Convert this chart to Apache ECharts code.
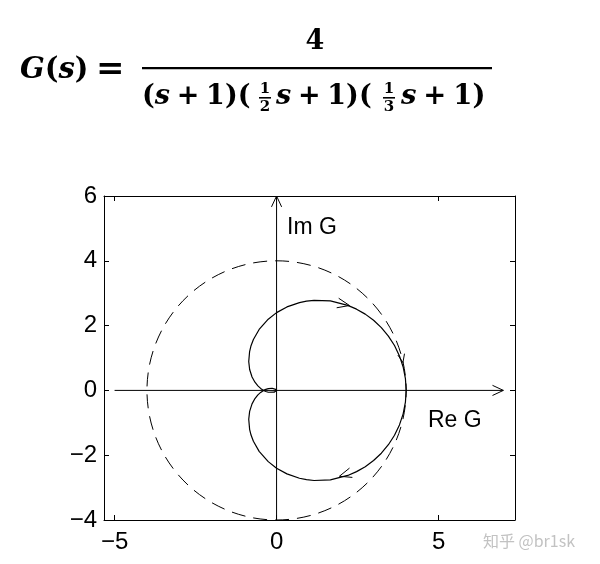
<!DOCTYPE html>
<html>
<head>
<meta charset="utf-8">
<script src="https://cdn.jsdelivr.net/npm/echarts@6/dist/echarts.min.js"></script>
<style>
html,body{margin:0;padding:0;background:#fff;}
#chart{width:600px;height:564px;}
</style>
</head>
<body>
<div id="chart"></div>
<script>
// ---- data ----
var xTicks = [-5, 0, 5];
var yTicks = [-4, -2, 0, 2, 4, 6];
// Nyquist curve, upper branch (negative frequencies), from origin to (4,0)
var upperBranch = [
  [0,0],[-0.003,-0.006],[-0.013,-0.019],[-0.028,-0.032],[-0.076,-0.054],[-0.135,-0.066],
  [-0.254,-0.057],[-0.331,-0.033],[-0.4,0],[-0.492,0.062],[-0.576,0.138],[-0.667,0.252],
  [-0.757,0.415],[-0.831,0.646],[-0.859,0.892],[-0.832,1.2],[-0.788,1.379],[-0.715,1.571],
  [-0.538,1.881],[-0.257,2.199],[0,2.4],[0.32,2.577],[0.707,2.711],[0.924,2.756],
  [1.157,2.781],[1.661,2.761],[2.198,2.625],[2.469,2.507],[2.737,2.354],[2.994,2.165],
  [3.234,1.939],[3.451,1.677],[3.64,1.385],[3.793,1.065],[3.907,0.723],[3.977,0.365],[4,0]
];
// lower branch (positive frequencies), from (4,0) back to origin
var lowerBranch = [
  [4,0],[3.977,-0.365],[3.907,-0.723],[3.793,-1.065],[3.64,-1.385],[3.451,-1.677],
  [3.234,-1.939],[2.994,-2.165],[2.737,-2.354],[2.469,-2.507],[2.198,-2.625],[1.661,-2.761],
  [1.157,-2.781],[0.924,-2.756],[0.707,-2.711],[0.32,-2.577],[0,-2.4],[-0.257,-2.199],
  [-0.538,-1.881],[-0.715,-1.571],[-0.788,-1.379],[-0.832,-1.2],[-0.859,-0.892],[-0.831,-0.646],
  [-0.757,-0.415],[-0.667,-0.252],[-0.576,-0.138],[-0.492,-0.062],[-0.4,0],[-0.331,0.033],
  [-0.254,0.057],[-0.135,0.066],[-0.076,0.054],[-0.028,0.032],[-0.013,0.019],[-0.003,0.006],[0,0]
];
// reference circle: [centerX, centerY, radius]
var refCircle = [[0, 0, 4]];
// real / imaginary axes inside the plot
var realAxis = [[-5, 0], [7, 0]];
var imagAxis = [[0, -4], [0, 6]];
// arrow heads: [tipX, tipY, direction in screen degrees]
var axisArrows = [[7, 0, 0], [0, 6, -90]];
var curveArrows = [[2.25, 2.62, 12], [1.94, -2.65, 163]];
var circleArrows = [[3.9, 0.86, 78]];

// ---- chart ----
var chart = echarts.init(document.getElementById('chart'), null, {renderer: 'canvas'});
var FONT = '"Liberation Sans", Arial, Helvetica, sans-serif';
var SERIF = '"DejaVu Serif", serif';
function fmt(v){ return String(v).replace('-', '\u2212'); }

function arrowRenderer(len, spread){
  return function(params, api){
    var p = api.coord([api.value(0), api.value(1)]);
    var a = api.value(2) * Math.PI / 180;
    var s = spread * Math.PI / 180;
    var b1 = [p[0] - len*Math.cos(a - s), p[1] - len*Math.sin(a - s)];
    var b2 = [p[0] - len*Math.cos(a + s), p[1] - len*Math.sin(a + s)];
    return {type:'polyline', shape:{points:[b1, p, b2]}, style:{stroke:'#000', fill:null, lineWidth:1}};
  };
}

var axisCommon = {
  type: 'value',
  axisLine: {show: true, onZero: false, lineStyle: {color: '#000', width: 1}},
  splitLine: {show: false}
};
function tickStyle(vals){
  return {show: true, inside: true, length: 5, lineStyle: {color: '#000', width: 1}, customValues: vals};
}

function richMath(size){
  return {
    i: {fontFamily: SERIF, fontStyle: 'italic', fontWeight: 'bold', fontSize: size, fill: '#000', color: '#000'},
    n: {fontFamily: SERIF, fontWeight: 'bold', fontSize: size, fill: '#000', color: '#000'}
  };
}
var SP = '\u2005';
function mathText(x, y, str, size, align){
  return {type:'text', x:x, y:y, style:{text:str, rich:richMath(size), align:align||'left', verticalAlign:'middle',
    textAlign:align||'left', textVerticalAlign:'middle', fill:'#000',
    font:'bold ' + size + 'px ' + SERIF}};
}
function smallFrac(cx, num, den){
  return [
    {type:'text', x:cx, y:89, style:{text:num, font:'bold 15px ' + SERIF, fill:'#000', align:'center', verticalAlign:'middle', textAlign:'center', textVerticalAlign:'middle'}},
    {type:'rect', shape:{x:cx-6, y:97, width:12, height:1.6}, style:{fill:'#000'}},
    {type:'text', x:cx, y:107, style:{text:den, font:'bold 15px ' + SERIF, fill:'#000', align:'center', verticalAlign:'middle', textAlign:'center', textVerticalAlign:'middle'}}
  ];
}

var graphics = [
  mathText(20, 70, '{i|G}{n|(}{i|s}{n|)}', 29),
  mathText(96, 70, '{n|=}', 34),
  {type:'rect', shape:{x:142, y:67, width:350, height:2.2}, style:{fill:'#000'}},
  mathText(315, 42, '{n|4}', 27, 'center'),
  mathText(142, 97, '{n|(}{i|s}{n|' + SP + '+' + SP + '1)(}', 27),
  mathText(276, 97, '{i|s}{n|' + SP + '+' + SP + '1)(}', 27),
  mathText(401, 97, '{i|s}{n|' + SP + '+' + SP + '1)}', 27.5),
  {type:'text', x:287, y:228, style:{text:'Im G', font:'23px ' + FONT, fill:'#000', verticalAlign:'middle', textVerticalAlign:'middle'}},
  {type:'text', x:428, y:421, style:{text:'Re G', font:'23px ' + FONT, fill:'#000', verticalAlign:'middle', textVerticalAlign:'middle'}},
  {type:'text', x:483, y:541, style:{text:'知乎 @br1sk', font:'16px "Noto Sans CJK SC", sans-serif', fill:'#c2c2c2', verticalAlign:'middle', textVerticalAlign:'middle'}}
].concat(smallFrac(265, '1', '2')).concat(smallFrac(389, '1', '3'));

var X_MIN = -5.326, X_MAX = 7.359;
var option = {
  animation: false,
  backgroundColor: '#fff',
  grid: {left: 104, top: 196, width: 411, height: 324, show: false},
  xAxis: [
    Object.assign({}, axisCommon, {position:'bottom', min:X_MIN, max:X_MAX,
      axisTick: tickStyle(xTicks),
      axisLabel: {show:true, customValues: xTicks, formatter: fmt, color:'#000', fontSize:24, fontFamily: FONT, margin: 10}}),
    Object.assign({}, axisCommon, {position:'top', min:X_MIN, max:X_MAX,
      axisTick: tickStyle(xTicks), axisLabel: {show:false}})
  ],
  yAxis: [
    Object.assign({}, axisCommon, {position:'left', min:-4, max:6, interval:2,
      axisTick: tickStyle(yTicks),
      axisLabel: {show:true, customValues: yTicks, formatter: fmt, color:'#000', fontSize:24, fontFamily: FONT, margin: 7}}),
    Object.assign({}, axisCommon, {position:'right', min:-4, max:6, interval:2,
      axisTick: tickStyle(yTicks), axisLabel: {show:false}})
  ],
  graphic: graphics,
  series: [
    {type:'line', data: realAxis, showSymbol:false, symbol:'none', lineStyle:{color:'#000', width:1}, silent:true},
    {type:'line', data: imagAxis, showSymbol:false, symbol:'none', lineStyle:{color:'#000', width:1}, silent:true},
    {type:'custom', data: refCircle, silent:true,
      renderItem: function(params, api){
        var c = api.coord([api.value(0), api.value(1)]);
        var r = api.size([api.value(2), 0])[0];
        return {type:'circle', shape:{cx:c[0], cy:c[1], r:r},
          style:{stroke:'#000', fill:null, lineWidth:1, lineDash:[14,8], lineDashOffset:7}};
      }},
    {type:'line', data: upperBranch, showSymbol:false, symbol:'none', lineStyle:{color:'#000', width:1.2}, silent:true},
    {type:'line', data: lowerBranch, showSymbol:false, symbol:'none', lineStyle:{color:'#000', width:1.2}, silent:true},
    {type:'custom', data: axisArrows, renderItem: arrowRenderer(12, 25), silent:true},
    {type:'custom', data: curveArrows, renderItem: arrowRenderer(13, 22), silent:true},
    {type:'custom', data: circleArrows, renderItem: arrowRenderer(9, 22), silent:true}
  ]
};
chart.setOption(option);
</script>
</body>
</html>
